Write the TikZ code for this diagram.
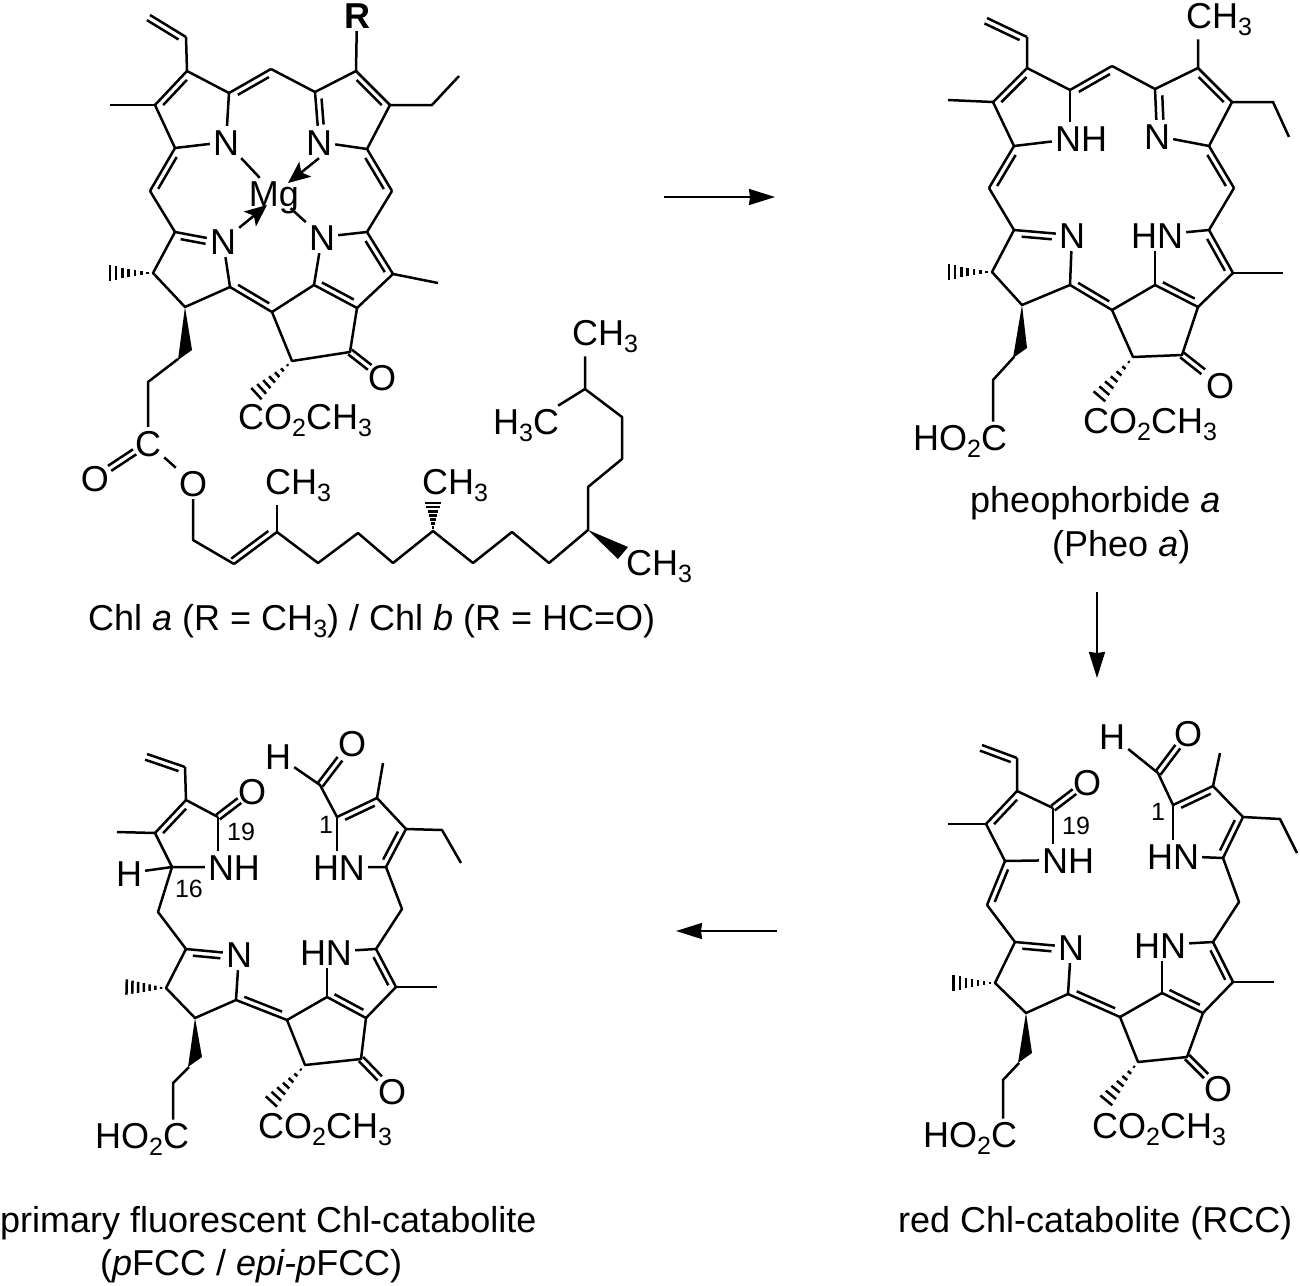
\documentclass[tikz,border=0pt]{standalone}
\usepackage{fontspec}
\setmainfont{Liberation Sans}
\usetikzlibrary{calc,arrows.meta}

\tikzset{
	bond/.style={line width=2.5pt,line join=round},
	atom/.style={font=\fontsize{36}{40}\selectfont,inner sep=3pt,text height=26pt,text depth=0pt},
	lab/.style={font=\fontsize{36}{40}\selectfont,inner sep=3pt,anchor=base west},
	num/.style={font=\fontsize{25}{28}\selectfont,inner sep=0pt},
	captext/.style={font=\fontsize{36}{40}\selectfont,inner sep=0pt,anchor=base west},
	step arrow/.style={line width=2pt,-{Stealth[length=26pt,width=16pt,inset=1pt]}},
	mg arrow/.style={line width=2.5pt,-{Stealth[length=22pt,width=19pt,inset=5pt]}}
}
\newcommand{\lowered}[1]{\raisebox{-.22em}{\fontsize{25}{25}\selectfont #1}}
% double bond, inner line on the side given by the sign
\newcommand{\dbl}[4][.14]{
	\draw[bond] (#2) -- (#3);
	\draw[bond] ($(#2)!#1!(#3)!#4pt!90:(#3)$) -- ($(#2)!.88!(#3)!#4pt!90:(#3)$);
}
% double bond onto a lettered atom
\newcommand{\dbln}[3]{
	\draw[bond] (#1) -- (#2);
	\draw[bond] ($(#1)!.14!(#2)!#3pt!90:(#2)$) -- ($(#1)!.66!(#2)!#3pt!90:(#2)$);
}
% C=O, two lines side by side, from and to as distances
\newcommand{\dblo}[4]{
	\draw[bond] ($(#1)!#3pt!(#2)!3pt!90:(#2)$) -- ($(#1)!#4pt!(#2)!3pt!90:(#2)$);
	\draw[bond] ($(#1)!#3pt!(#2)!-3pt!90:(#2)$) -- ($(#1)!#4pt!(#2)!-3pt!90:(#2)$);
}
\newcommand{\hashb}[2]{
	\foreach \t in {.12,.26,.4,.54,.68,.82,.96}
		\draw[line width=2.5pt] ($(#1)!\t!(#2)!\t*8pt!90:(#2)$) -- ($(#1)!\t!(#2)!-\t*8pt!90:(#2)$);
}
\newcommand{\wedgeb}[3]{\fill (#1) -- (#2) -- (#3) -- cycle;}

\begin{document}
\begin{tikzpicture}[x=1pt,y=-1pt]
	\useasboundingbox (0,0) rectangle (1300,1285);

	% Chl a / Chl b
	\begin{scope}[name prefix=a-]
		\coordinate (vn) at (150,15);
		\coordinate (va) at (186,37);
		\coordinate (c1) at (187,71);
		\coordinate (c2) at (155,105);
		\coordinate (me1) at (110,105);
		\coordinate (c3) at (175,148);
		\coordinate (c4) at (229,93);
		\coordinate (m1) at (271,69);
		\coordinate (c5) at (315,92);
		\coordinate (c6) at (356,71);
		\coordinate (c7) at (390,105);
		\coordinate (et1) at (432,105);
		\coordinate (et2) at (459,76);
		\coordinate (c8) at (367,149);
		\coordinate (m2) at (392,191);
		\coordinate (c9) at (367,232);
		\coordinate (c10) at (393,274);
		\coordinate (me2) at (438,283);
		\coordinate (c11) at (357,308);
		\coordinate (c12) at (314,285);
		\coordinate (m3) at (272,312);
		\coordinate (c13) at (230,287);
		\coordinate (c14) at (185,307);
		\coordinate (c15) at (153,273);
		\coordinate (me3) at (108,273);
		\coordinate (c16) at (175,232);
		\coordinate (m4) at (150,191);
		\coordinate (r1) at (292,361);
		\coordinate (r2) at (350,352);
		\coordinate (he) at (255,395);
		\coordinate (w1) at (178,360);
		\coordinate (w2) at (192,350);
		\coordinate (e1) at (178,359);
		\coordinate (e2) at (148,382);
		\coordinate (mgt) at (288,183);
		\coordinate (mgl) at (267,205);
		\coordinate (p1) at (193,540);
		\coordinate (p2) at (234,564);
		\coordinate (p3) at (277,532);
		\coordinate (p4) at (318,563);
		\coordinate (p5) at (358,533);
		\coordinate (p6) at (393,563);
		\coordinate (p7) at (433,531);
		\coordinate (p8) at (473,563);
		\coordinate (p9) at (512,532);
		\coordinate (p10) at (549,563);
		\coordinate (p11) at (588,530);
		\coordinate (p12) at (588,487);
		\coordinate (p13) at (622,459);
		\coordinate (p14) at (622,417);
		\coordinate (p15) at (585,389);
		\coordinate (h1) at (433,502);
		\coordinate (w3) at (618,559);
		\coordinate (w4) at (628,547);

		\node[atom,font=\fontsize{36}{40}\selectfont\bfseries] (r) at (357,15) {R};
		\node[atom] (n1) at (226,142) {N};
		\node[atom] (n2) at (319,142) {N};
		\node[atom] (n3) at (223,241) {N};
		\node[atom] (n4) at (322,237) {N};
		\node[atom,inner sep=2pt] (mg) at (274,193) {Mg};
		\node[atom] (ok) at (382,377) {O};
		\node[lab] (est) at (235,429) {CO\lowered{2}CH\lowered{3}};
		\node[atom] (cest) at (148,443) {C};
		\node[atom] (o1) at (95,478) {O};
		\node[atom] (o2) at (193,483) {O};
		\node[lab] (chA) at (262,494) {CH\lowered{3}};
		\node[lab] (chB) at (419,494) {CH\lowered{3}};
		\node[lab] (chC) at (623,575) {CH\lowered{3}};
		\node[lab] (chD) at (569,345) {CH\lowered{3}};
		\node[lab] (hc) at (490,434) {H\lowered{3}C};
		\node[captext] (name) at (88,630) {Chl \textit{a} (R = CH\lowered{3}) / Chl \textit{b} (R = HC=O)};

		\dbl[0]{vn}{va}{-6}
		\draw[bond] (va) -- (c1) -- (c4);
		\dbl{c1}{c2}{6}
		\draw[bond] (c2) -- (me1);
		\draw[bond] (c2) -- (c3) -- (n1) -- (c4);
		\dbl{c4}{m1}{-6}
		\draw[bond] (m1) -- (c5) -- (c6) -- (r);
		\dbln{c5}{n2}{6}
		\dbl{c6}{c7}{-6}
		\draw[bond] (c7) -- (et1) -- (et2);
		\draw[bond] (c7) -- (c8) -- (n2);
		\dbl{c8}{m2}{-6}
		\draw[bond] (m2) -- (c9) -- (n4) -- (c12);
		\dbl{c9}{c10}{-6}
		\draw[bond] (c10) -- (me2);
		\draw[bond] (c10) -- (c11);
		\dbl{c11}{c12}{-6}
		\draw[bond] (c12) -- (m3);
		\dbl{m3}{c13}{-6}
		\draw[bond] (c13) -- (n3);
		\draw[bond] (c13) -- (c14) -- (c15) -- (c16);
		\dbln{c16}{n3}{-6}
		\draw[bond] (c16) -- (m4);
		\dbl{c3}{m4}{6}
		\draw[bond] (n1) -- (mg) -- (n4);
		\draw[mg arrow] (n2.south) -- (mgt);
		\draw[mg arrow] (n3) -- (mgl);
		\hashb{c15}{me3}
		\wedgeb{c14}{w1}{w2}
		\draw[bond] (m3) -- (r1) -- (r2) -- (c11);
		\dblo{r2}{ok}{0}{25}
		\hashb{r1}{he}
		\draw[bond] (e1) -- (e2) -- (cest);
		\dblo{cest}{o1}{16}{46}
		\draw[bond] (cest) -- (o2) -- (p1) -- (p2);
		\dbl[.02]{p2}{p3}{6}
		\draw[bond] (p3) -- (p3 |- chA.south);
		\draw[bond] (p3) -- (p4) -- (p5) -- (p6) -- (p7) -- (p8) -- (p9) -- (p10) -- (p11) -- (p12) -- (p13) -- (p14) -- (p15) -- (p15 |- chD.south);
		\draw[bond] (p15) -- (hc);
		\hashb{p7}{h1}
		\wedgeb{p11}{w3}{w4}
	\end{scope}

	% pheophorbide
	\begin{scope}[name prefix=b-]
		\coordinate (vn) at (987,18);
		\coordinate (va) at (1027,37);
		\coordinate (c1) at (1027,68);
		\coordinate (c2) at (993,102);
		\coordinate (me1) at (948,100);
		\coordinate (c3) at (1014,146);
		\coordinate (c4) at (1070,90);
		\coordinate (m1) at (1112,66);
		\coordinate (c5) at (1155,89);
		\coordinate (c6) at (1198,68);
		\coordinate (c7) at (1232,102);
		\coordinate (et1) at (1273,102);
		\coordinate (et2) at (1289,137);
		\coordinate (c8) at (1209,146);
		\coordinate (m2) at (1234,188);
		\coordinate (c9) at (1209,230);
		\coordinate (c10) at (1233,273);
		\coordinate (me2) at (1283,273);
		\coordinate (c11) at (1198,307);
		\coordinate (c12) at (1155,285);
		\coordinate (m3) at (1112,310);
		\coordinate (c13) at (1070,285);
		\coordinate (c14) at (1022,305);
		\coordinate (c15) at (992,272);
		\coordinate (me3) at (947,272);
		\coordinate (c16) at (1014,230);
		\coordinate (m4) at (989,188);
		\coordinate (r1) at (1133,357);
		\coordinate (r2) at (1182,355);
		\coordinate (he) at (1098,398);
		\coordinate (w1) at (1013,358);
		\coordinate (w2) at (1027,348);
		\coordinate (e1) at (1014,357);
		\coordinate (e2) at (993,380);

		\node[lab] (chT) at (1183,28) {CH\lowered{3}};
		\node[atom] (nh1) at (1081,138) {NH};
		\node[atom] (n2) at (1157,136) {N};
		\node[atom] (n3) at (1072,235) {N};
		\node[atom] (nh4) at (1157,235) {HN};
		\node[atom] (ok) at (1220,385) {O};
		\node[lab] (est) at (1080,433) {CO\lowered{2}CH\lowered{3}};
		\node[lab] (ho) at (910,450) {HO\lowered{2}C};
		\node[captext] (name) at (970,512) {pheophorbide \textit{a}};
		\node[captext] (nameb) at (1052,556) {(Pheo \textit{a})};

		\dbl[0]{vn}{va}{-6}
		\draw[bond] (va) -- (c1) -- (c4);
		\dbl{c1}{c2}{6}
		\draw[bond] (c2) -- (me1);
		\draw[bond] (c2) -- (c3) -- (nh1);
		\draw[bond] (c4) -- (c4 |- nh1.north);
		\dbl{c4}{m1}{-6}
		\draw[bond] (m1) -- (c5) -- (c6) -- (chT.south -| c6);
		\dbln{c5}{n2}{7}
		\dbl{c6}{c7}{-6}
		\draw[bond] (c7) -- (et1) -- (et2);
		\draw[bond] (c7) -- (c8) -- (n2);
		\dbl{c8}{m2}{-6}
		\draw[bond] (m2) -- (c9) -- (nh4);
		\draw[bond] (c12) -- (c12 |- nh4.south);
		\dbl{c9}{c10}{-6}
		\draw[bond] (c10) -- (me2);
		\draw[bond] (c10) -- (c11);
		\dbl{c11}{c12}{-6}
		\draw[bond] (c12) -- (m3);
		\dbl{m3}{c13}{-6}
		\draw[bond] (c13) -- (n3);
		\draw[bond] (c13) -- (c14) -- (c15) -- (c16);
		\dbln{c16}{n3}{-6}
		\draw[bond] (c16) -- (m4);
		\dbl{c3}{m4}{6}
		\hashb{c15}{me3}
		\wedgeb{c14}{w1}{w2}
		\draw[bond] (m3) -- (r1) -- (r2) -- (c11);
		\dblo{r2}{ok}{0}{27}
		\hashb{r1}{he}
		\draw[bond] (e1) -- (e2) -- (e2 |- ho.north);
	\end{scope}

	% red catabolite
	\begin{scope}[name prefix=c-]
		\coordinate (vn) at (982,745);
		\coordinate (va) at (1017,758);
		\coordinate (c1) at (1017,791);
		\coordinate (c2) at (986,824);
		\coordinate (me1) at (948,824);
		\coordinate (c3) at (1005,861);
		\coordinate (co) at (1053,808);
		\coordinate (cho) at (1158,773);
		\coordinate (c5) at (1173,805);
		\coordinate (c6) at (1213,786);
		\coordinate (me4) at (1220,753);
		\coordinate (c7) at (1243,817);
		\coordinate (et1) at (1280,819);
		\coordinate (et2) at (1297,853);
		\coordinate (c8) at (1223,858);
		\coordinate (m2) at (1239,902);
		\coordinate (c9) at (1213,942);
		\coordinate (c10) at (1233,982);
		\coordinate (me2) at (1274,982);
		\coordinate (c11) at (1203,1013);
		\coordinate (c12) at (1162,993);
		\coordinate (m3) at (1120,1017);
		\coordinate (c13) at (1068,994);
		\coordinate (c14) at (1026,1013);
		\coordinate (c15) at (995,983);
		\coordinate (me3) at (952,983);
		\coordinate (c16) at (1015,942);
		\coordinate (m4) at (987,905);
		\coordinate (r1) at (1138,1062);
		\coordinate (r2) at (1187,1057);
		\coordinate (he) at (1105,1102);
		\coordinate (w1) at (1018,1063);
		\coordinate (w2) at (1032,1053);
		\coordinate (e1) at (1019,1063);
		\coordinate (e2) at (1003,1080);

		\node[atom] (ot) at (1087,782) {O};
		\node[atom] (h) at (1112,736) {H};
		\node[atom] (oh) at (1188,733) {O};
		\node[atom] (nh1) at (1068,860) {NH};
		\node[atom] (nh2) at (1173,856) {HN};
		\node[atom] (n3) at (1071,947) {N};
		\node[atom] (nh4) at (1160,945) {HN};
		\node[atom] (ok) at (1218,1088) {O};
		\node[num] (l19) at (1076,826) {19};
		\node[num] (l1) at (1158,812) {1};
		\node[lab] (est) at (1089,1138) {CO\lowered{2}CH\lowered{3}};
		\node[lab] (ho) at (920,1147) {HO\lowered{2}C};
		\node[captext] (name) at (898,1232) {red Chl-catabolite (RCC)};

		\dbl[0]{vn}{va}{-6}
		\draw[bond] (va) -- (c1) -- (co);
		\dblo{co}{ot}{0}{27}
		\draw[bond] (co) -- (co |- nh1.north);
		\dbl{c1}{c2}{6}
		\draw[bond] (c2) -- (me1);
		\draw[bond] (c2) -- (c3) -- (nh1);
		\dbl{c3}{m4}{6}
		\draw[bond] (h) -- (cho) -- (c5);
		\dblo{cho}{oh}{0}{33}
		\draw[bond] (c5) -- (c5 |- nh2.north);
		\dbl{c5}{c6}{-6}
		\draw[bond] (c6) -- (me4);
		\draw[bond] (c6) -- (c7) -- (et1) -- (et2);
		\dbl{c7}{c8}{-6}
		\draw[bond] (nh2) -- (c8) -- (m2) -- (c9) -- (nh4);
		\draw[bond] (c12) -- (c12 |- nh4.south);
		\dbl{c9}{c10}{-6}
		\draw[bond] (c10) -- (me2);
		\draw[bond] (c10) -- (c11);
		\dbl{c11}{c12}{-6}
		\draw[bond] (c12) -- (m3);
		\dbl{m3}{c13}{-6}
		\draw[bond] (c13) -- (n3);
		\draw[bond] (c13) -- (c14) -- (c15) -- (c16);
		\dbln{c16}{n3}{-6}
		\draw[bond] (c16) -- (m4);
		\hashb{c15}{me3}
		\wedgeb{c14}{w1}{w2}
		\draw[bond] (m3) -- (r1) -- (r2) -- (c11);
		\dblo{r2}{ok}{0}{27}
		\hashb{r1}{he}
		\draw[bond] (e1) -- (e2) -- (e2 |- ho.north);
	\end{scope}

	% fluorescent catabolite
	\begin{scope}[name prefix=d-]
		\coordinate (vn) at (147,754);
		\coordinate (va) at (185,767);
		\coordinate (c1) at (186,800);
		\coordinate (c2) at (155,833);
		\coordinate (me1) at (117,832);
		\coordinate (c3) at (172,867);
		\coordinate (co) at (218,817);
		\coordinate (cho) at (320,785);
		\coordinate (c5) at (337,817);
		\coordinate (c6) at (377,798);
		\coordinate (me4) at (383,763);
		\coordinate (c7) at (406,829);
		\coordinate (et1) at (442,830);
		\coordinate (et2) at (461,863);
		\coordinate (c8) at (386,867);
		\coordinate (m2) at (402,909);
		\coordinate (c9) at (376,949);
		\coordinate (c10) at (396,987);
		\coordinate (me2) at (437,987);
		\coordinate (c11) at (366,1018);
		\coordinate (c12) at (327,997);
		\coordinate (m3) at (287,1020);
		\coordinate (c13) at (236,1000);
		\coordinate (c14) at (195,1018);
		\coordinate (c15) at (166,988);
		\coordinate (me3) at (125,987);
		\coordinate (c16) at (186,949);
		\coordinate (m4) at (158,912);
		\coordinate (r1) at (305,1065);
		\coordinate (r2) at (361,1059);
		\coordinate (he) at (270,1103);
		\coordinate (w1) at (188,1067);
		\coordinate (w2) at (202,1057);
		\coordinate (e1) at (189,1067);
		\coordinate (e2) at (173,1083);

		\node[atom] (ot) at (252,791) {O};
		\node[atom] (h) at (278,756) {H};
		\node[atom] (oh) at (352,743) {O};
		\node[atom] (hl) at (129,873) {H};
		\node[atom] (nh1) at (234,867) {NH};
		\node[atom] (nh2) at (339,867) {HN};
		\node[atom] (n3) at (239,954) {N};
		\node[atom] (nh4) at (326,952) {HN};
		\node[atom] (ok) at (392,1091) {O};
		\node[num] (l19) at (241,832) {19};
		\node[num] (l16) at (189,889) {16};
		\node[num] (l1) at (326,825) {1};
		\node[lab] (est) at (255,1138) {CO\lowered{2}CH\lowered{3}};
		\node[lab] (ho) at (92,1148) {HO\lowered{2}C};
		\node[captext] (name) at (0,1232) {primary fluorescent Chl-catabolite};
		\node[captext] (nameb) at (100,1275) {(\textit{p}FCC / \textit{epi-p}FCC)};

		\dbl[0]{vn}{va}{-6}
		\draw[bond] (va) -- (c1) -- (co);
		\dblo{co}{ot}{0}{27}
		\draw[bond] (co) -- (co |- nh1.north);
		\dbl{c1}{c2}{6}
		\draw[bond] (c2) -- (me1);
		\draw[bond] (c2) -- (c3) -- (nh1);
		\draw[bond] (hl) -- (c3) -- (m4) -- (c16);
		\draw[bond] (h) -- (cho) -- (c5);
		\dblo{cho}{oh}{0}{33}
		\draw[bond] (c5) -- (c5 |- nh2.north);
		\dbl{c5}{c6}{-6}
		\draw[bond] (c6) -- (me4);
		\draw[bond] (c6) -- (c7) -- (et1) -- (et2);
		\dbl{c7}{c8}{-6}
		\draw[bond] (nh2) -- (c8) -- (m2) -- (c9) -- (nh4);
		\draw[bond] (c12) -- (c12 |- nh4.south);
		\dbl{c9}{c10}{-6}
		\draw[bond] (c10) -- (me2);
		\draw[bond] (c10) -- (c11);
		\dbl{c11}{c12}{-6}
		\draw[bond] (c12) -- (m3);
		\dbl{m3}{c13}{-6}
		\draw[bond] (c13) -- (n3);
		\draw[bond] (c13) -- (c14) -- (c15) -- (c16);
		\dbln{c16}{n3}{-6}
		\hashb{c15}{me3}
		\wedgeb{c14}{w1}{w2}
		\draw[bond] (m3) -- (r1) -- (r2) -- (c11);
		\dblo{r2}{ok}{0}{27}
		\hashb{r1}{he}
		\draw[bond] (e1) -- (e2) -- (e2 |- ho.north);
	\end{scope}

	% the steps between the four
	\coordinate (s1a) at (664,197);
	\coordinate (s1b) at (775,197);
	\coordinate (s2a) at (1097,592);
	\coordinate (s2b) at (1097,678);
	\coordinate (s3a) at (777,931);
	\coordinate (s3b) at (676,931);
	\draw[step arrow] (s1a) -- (s1b);
	\draw[step arrow] (s2a) -- (s2b);
	\draw[step arrow] (s3a) -- (s3b);
\end{tikzpicture}
\end{document}
